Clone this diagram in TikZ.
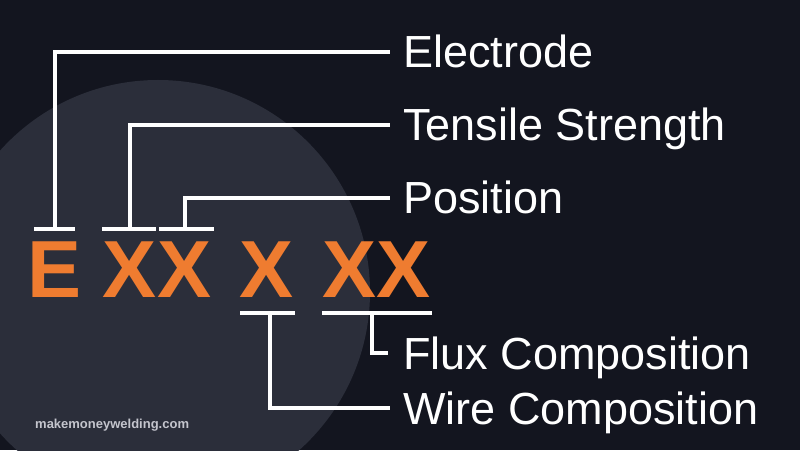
\documentclass[tikz,border=0pt]{standalone}
\usepackage{fontspec}
\setmainfont{Liberation Sans}
\definecolor{bgnavy}{HTML}{13151F}
\definecolor{discgray}{HTML}{2B2E3A}
\definecolor{weldorange}{HTML}{EF7C30}
\definecolor{markgray}{HTML}{C4C5CD}
\tikzset{
  lead/.style={draw=white, line width=4pt},
  digit/.style={text=weldorange, font=\fontsize{81}{81}\selectfont\bfseries,
    inner sep=0pt, text height=58pt, text depth=0pt},
  tag/.style={text=white, font=\fontsize{45}{54}\selectfont, anchor=west,
    inner sep=0pt, text height=32pt, text depth=0pt}
}
\begin{document}
\begin{tikzpicture}[x=1pt, y=1pt]

    % Background and the faint disc behind the code
    \useasboundingbox (0,0) rectangle (800,450);
    \fill[bgnavy] (0,0) rectangle (800,450);
    \begin{scope}
      \clip (0,0) rectangle (800,450);
      \fill[discgray] (158,158) circle (212);
    \end{scope}

    % The electrode code, one letter per node
    \node[digit] (e)  at (55,181)  {E};
    \node[digit] (x1) at (130,181) {X};
    \node[digit] (x2) at (185,181) {X};
    \node[digit] (x3) at (267,181) {X};
    \node[digit] (x4) at (350,181) {X};
    \node[digit] (x5) at (404,181) {X};

    % Labels on the right
    \node[tag] (electrode) at (403,398) {Electrode};
    \node[tag] (tensile)   at (403,325) {Tensile Strength};
    \node[tag] (position)  at (403,252) {Position};
    \node[tag] (flux)      at (403,97)  {Flux Composition};
    \node[tag] (wire)      at (403,42)  {Wire Composition};

    % Bracket points above and below the letters
    \coordinate (bE) at (55,221);
    \coordinate (bT) at (130,221);
    \coordinate (bP) at (185,221);
    \coordinate (bW) at (270,137);
    \coordinate (bF) at (372,137);

    % Brackets
    \draw[lead] ([xshift=-21pt]bE) -- ([xshift=20pt]bE);
    \draw[lead] ([xshift=-28pt]bT) -- ([xshift=26pt]bT);
    \draw[lead] ([xshift=-26pt]bP) -- ([xshift=29pt]bP);
    \draw[lead] ([xshift=-30pt]bW) -- ([xshift=25pt]bW);
    \draw[lead] ([xshift=-50pt]bF) -- ([xshift=60pt]bF);

    % Leaders from the brackets to the labels
    \draw[lead] (bE) |- ([xshift=-13pt]electrode.west);
    \draw[lead] (bT) |- ([xshift=-13pt]tensile.west);
    \draw[lead] (bP) |- ([xshift=-13pt]position.west);
    \draw[lead] (bF) |- ([xshift=-15pt]flux.west);
    \draw[lead] (bW) |- ([xshift=-13pt]wire.west);

    % Site name
    \node[text=markgray, font=\fontsize{13}{15}\selectfont\bfseries, anchor=west, inner sep=0pt]
      (site) at (35,25) {makemoneywelding.com};
\end{tikzpicture}
\end{document}
